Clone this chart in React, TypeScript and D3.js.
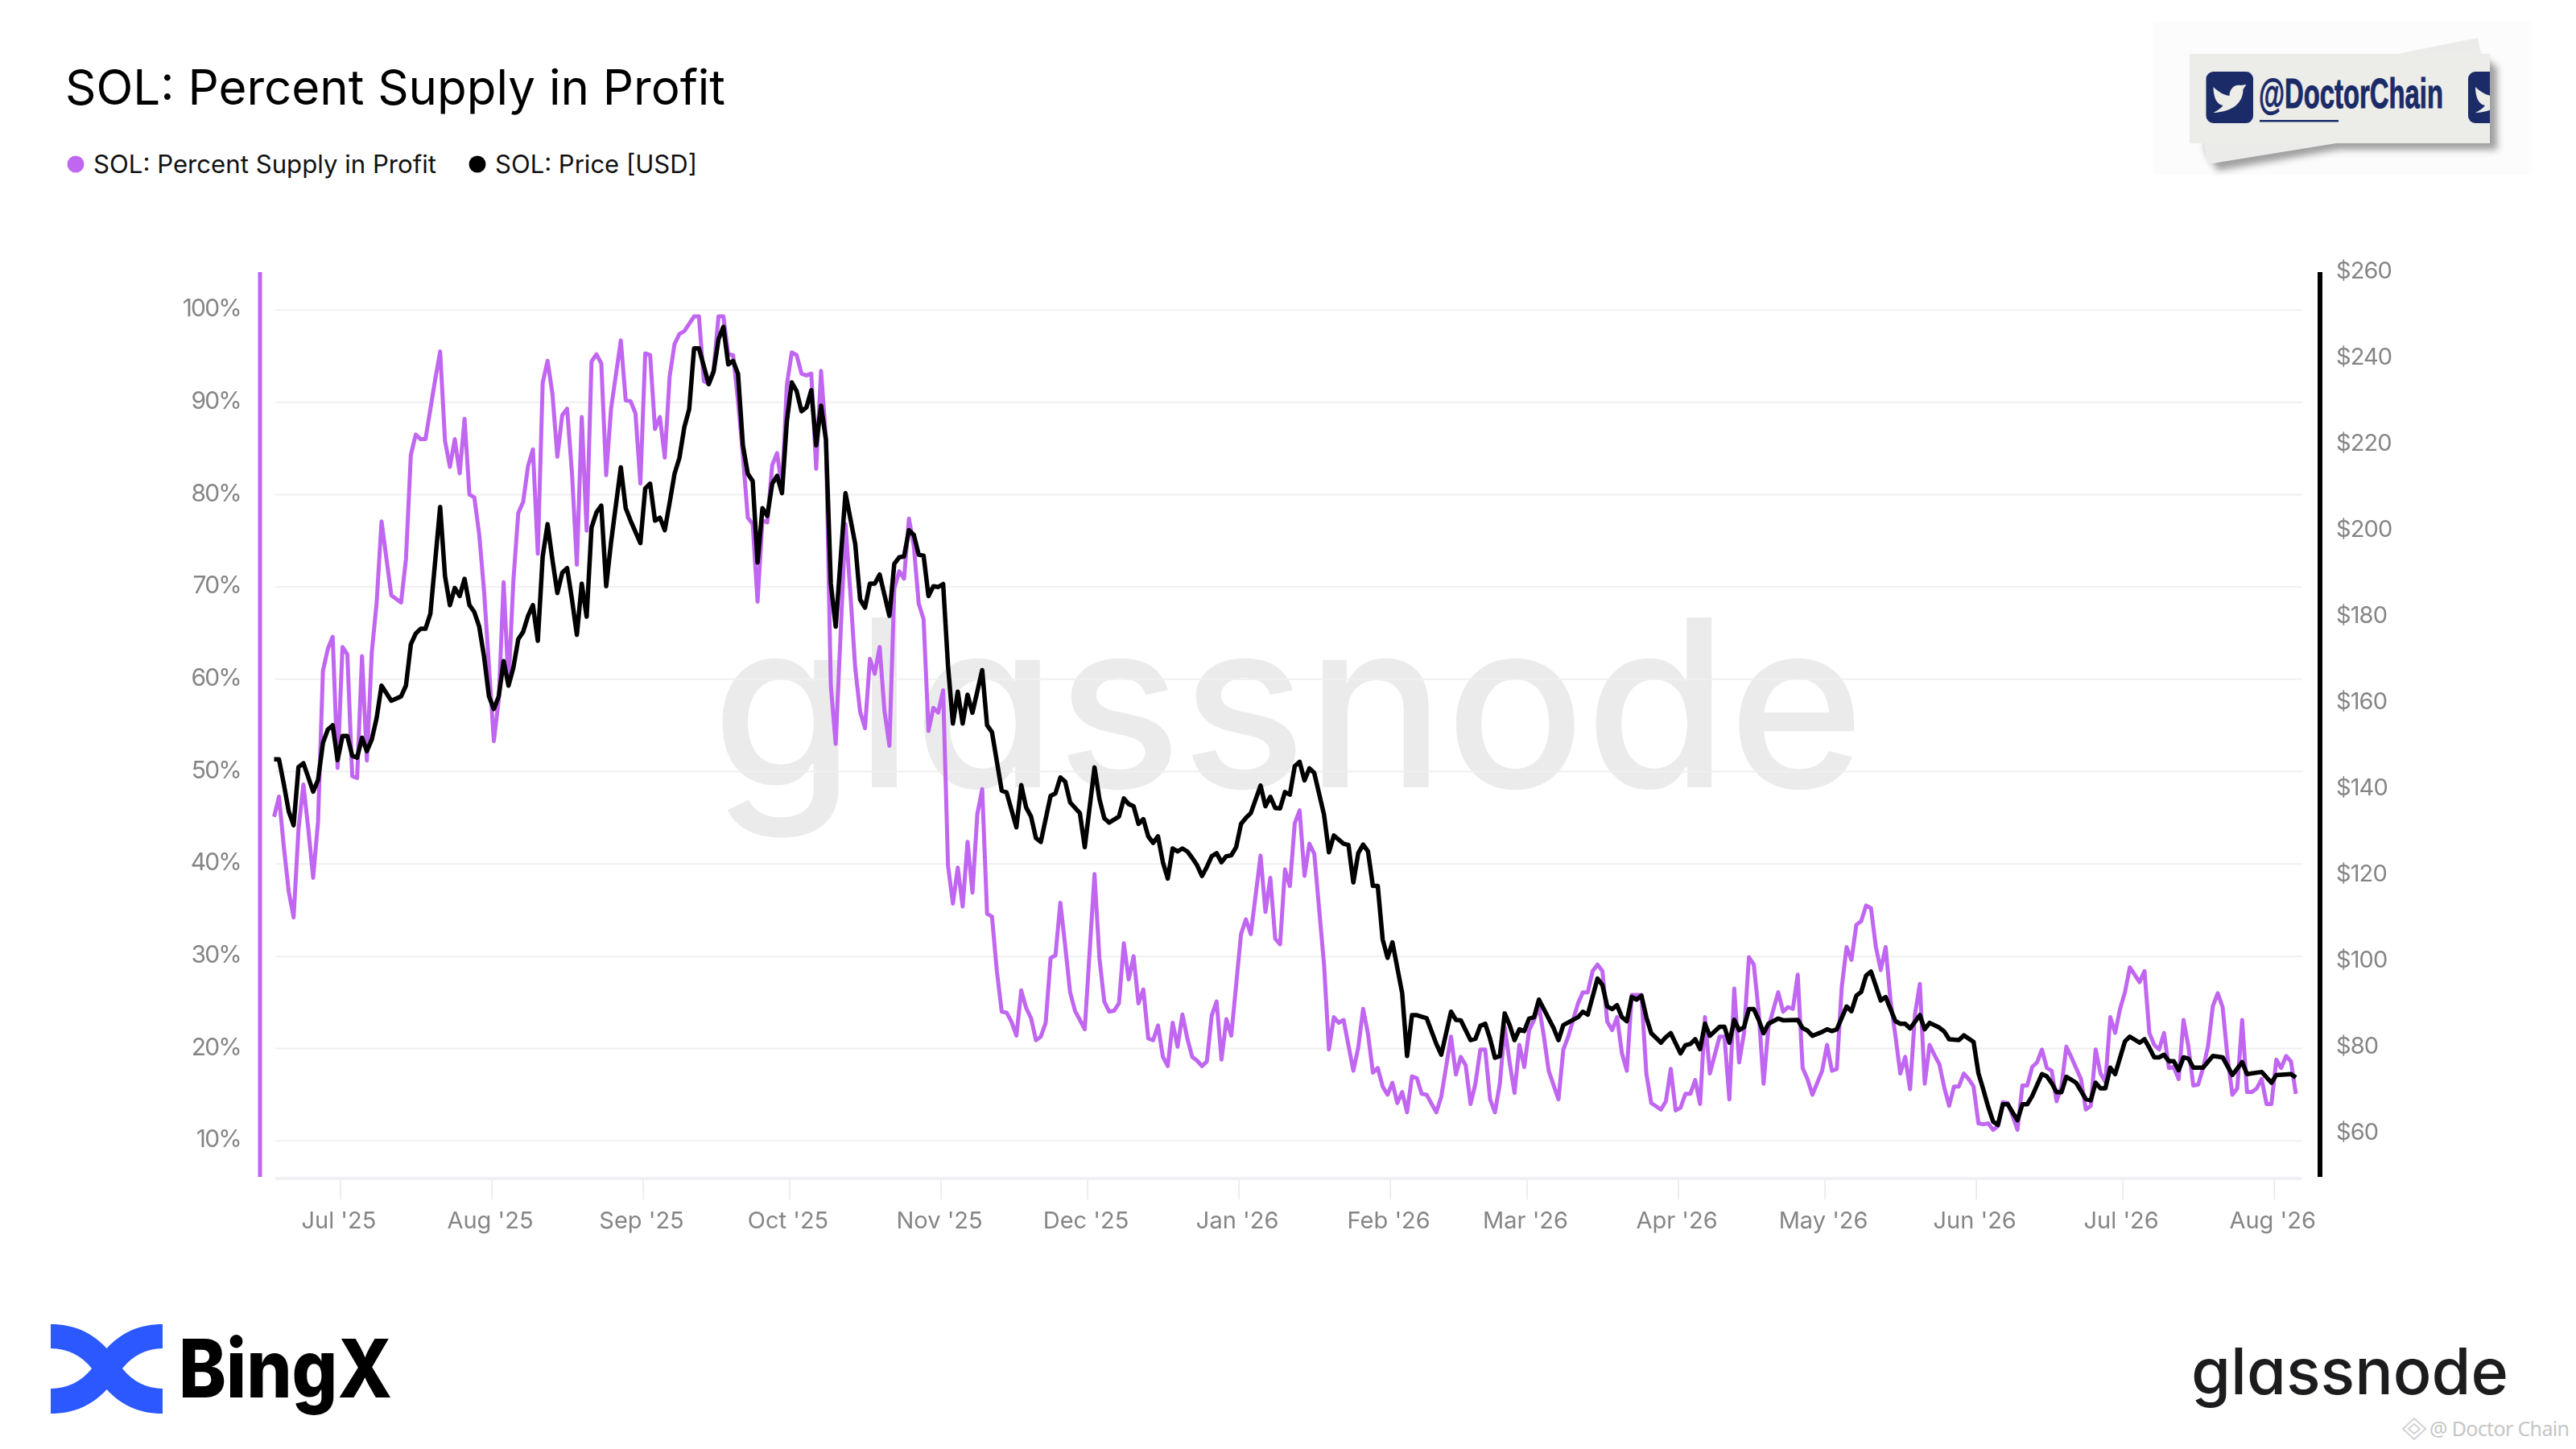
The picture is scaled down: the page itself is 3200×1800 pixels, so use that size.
import React, { useRef, useEffect } from "react";
import * as d3 from "d3";

// days counted from the first sample (17 Jun 2025, midday)
const startDate = Date.UTC(2025, 5, 17, 12);
const DAY = 86400000;

const supplyDays = [
  0,1,2,3,4,5,6,7,8,9,10,11,12,13,14,15,16,17,18,19,20,21,22,24,26,27,28,29,30,31,33,34,35,36,37,38,39,40,41,42,43,45,46,47,48,49,
  50,51,52,53,54,55,56,57,58,59,60,61,62,63,64,65,66,67,68,69,71,72,73,74,75,76,77,78,79,80,81,82,83,84,86,87,88,89,90,91,92,93,94,95,96,97,98,99,
  100,101,102,103,104,105,106,107,108,109,110,111,112,113,114,115,117,118,119,120,121,122,123,124,125,126,127,128,129,130,131,132,133,134,135,136,137,138,139,140,141,142,143,144,145,146,147,148,149,
  150,151,152,153,154,155,156,157,158,159,160,161,162,163,164,165,166,168,169,170,171,172,173,174,175,176,177,178,179,180,181,182,183,184,185,186,187,188,189,190,191,192,193,194,195,196,198,199,
  200,202,203,204,205,206,207,208,209,210,211,212,213,215,216,217,218,219,221,222,223,224,225,226,227,228,229,230,231,232,233,234,235,236,238,239,241,242,243,244,245,246,247,248,249,
  250,251,252,253,254,255,256,257,258,259,260,261,263,264,265,267,268,269,270,271,272,273,274,275,276,277,278,279,280,281,282,284,285,286,287,288,289,290,291,292,293,294,296,297,298,299,
  300,301,302,303,304,305,306,307,308,309,310,311,312,313,314,315,317,318,319,320,321,322,323,324,325,326,327,328,329,330,331,332,333,334,335,336,337,338,339,340,341,342,343,344,345,346,347,348,349,
  350,351,352,353,354,355,356,357,358,359,360,361,362,363,364,365,366,367,368,370,371,372,373,374,375,376,377,378,379,380,382,383,384,385,386,387,388,389,390,391,392,393,394,395,396,397,398,399,
  400,401,402,403,404,405,406,407,408,409,410,411,412,413,414,
];
const supplyValues = [
  45.1,47.3,41.8,37,34.2,43.8,48.6,43.8,38.5,44.6,60.9,63.3,64.6,50.4,63.5,62.7,49.5,49.3,62.5,51.2,62.9,68.3,77.1,69.1,68.3,73,84.3,86.5,86,86,92.5,95.5,85.8,83,86,82.3,88.2,80,79.7,75.7,69.5,53.3,57.8,70.5,59.4,70.7,
  78,79.2,83.1,84.9,73.6,92.1,94.5,90.9,84.1,88.6,89.3,82.3,72.4,88.4,76.1,94.4,95.2,94.2,82.1,89.3,96.7,90.2,90.1,88.8,81.2,95.3,95.1,87.1,88.4,84,92.8,96.3,97.4,97.7,99.3,99.3,92.3,92,93.5,99.3,99.3,95.2,95.1,90.1,84.2,77.5,76.8,68.4,
  77.2,77,83.2,84.5,80.7,91.9,95.4,95.1,93.1,92.9,93.1,82.8,93.4,86.1,59.3,53,76.8,69.4,61.2,56.5,54.7,62.2,60.6,63.5,56.5,52.8,69.8,71.7,70.9,77.4,74.4,68.2,66.5,54.4,56.9,56.4,58.8,39.8,35.7,39.6,35.4,42.4,36.9,45.4,48.1,34.6,34.3,28.4,24,
  23.9,22.9,21.4,26.3,24.4,23.3,20.9,21.3,22.8,29.8,30.1,35.8,31.1,26.1,24.1,23.1,22.1,38.9,29.8,25.1,24,24.1,24.9,31.4,27.5,30,24.9,26.4,21.1,20.9,22.5,19.1,18.1,22.8,20.2,23.7,21.1,19.1,18.7,18.1,18.6,23.6,25.1,18.8,23.2,21.4,32.4,34,
  32.4,40.9,34.8,38.5,31.9,31.3,39.4,37.6,44.4,45.8,38.7,42.2,41.1,29.1,19.9,23.4,22.8,23.1,17.6,20.1,24.3,21.6,17.4,17.9,15.9,15,16.3,14.1,15.3,13.1,17,16.8,15.1,15,13.1,14.8,21.3,17.2,19.1,18.2,14,16.2,19.9,19.9,14.5,
  13.1,16.2,22.3,18.5,15.2,20.4,18,22,23.1,24.6,21.4,17.6,14.5,19.9,21.3,24.9,26.1,26.1,28.4,29.1,28.4,22.9,22,23.4,19.5,17.6,25.8,25.8,25.8,17.3,14.1,13.4,14.3,17.8,13.3,13.6,15.1,15.1,16.6,14,23.4,17.3,21.3,21.3,14.5,26.5,
  18.5,21.7,29.9,29.1,24,16.2,22.3,24.2,26.1,24,24.5,24.3,28,17.9,16.7,15,17.6,20.4,17.6,17.8,26.6,31,29.6,33.4,33.8,35.5,35.2,31,28.5,31,25.2,21.4,17.3,19.1,15.6,23.7,27,16.2,20.4,19.3,18.3,15.8,13.8,15.9,15.9,17.3,16.7,15.9,11.9,
  11.8,11.9,11.2,11.6,14.2,14.1,12.7,11.2,16,16,18,18.5,19.9,17.9,17.6,14.3,15.9,20.2,19.1,16.7,13.4,13.8,19.9,17.3,16.4,23.4,21.7,24.3,26.1,28.8,27.2,28.4,21.7,20.4,19.9,21.7,17.9,18,16.7,23.1,20.2,16,16.1,17.9,20.2,24.6,26,24.5,
  19.1,15,15.7,23.1,15.3,15.3,15.7,16.7,14,14,18.8,17.9,19.2,18.6,15.1,
];

const priceDays = [
  0,1,2,3,4,5,6,7,8,9,10,11,12,13,14,15,16,17,18,19,20,21,22,24,26,27,28,29,30,31,32,34,35,36,37,38,39,40,41,42,43,44,45,46,47,48,49,
  50,51,52,53,54,55,56,57,58,59,60,61,62,63,64,65,66,67,68,69,71,72,73,75,76,77,78,79,80,81,82,83,84,85,86,87,89,90,91,92,93,94,95,96,97,98,99,
  100,101,102,103,104,105,106,107,108,109,110,111,112,113,114,115,117,119,120,121,122,123,124,126,127,128,129,130,131,132,133,134,135,136,137,138,139,140,141,142,143,145,146,147,149,
  150,152,153,154,155,156,157,159,160,161,162,163,165,166,168,169,170,171,173,174,175,176,177,178,179,180,181,182,183,184,185,186,187,188,189,190,191,192,193,194,195,196,197,198,199,
  200,202,203,204,205,206,207,208,209,210,211,212,213,215,216,217,219,220,221,222,223,224,225,226,227,228,229,231,232,233,234,236,238,239,240,241,242,243,245,246,247,248,249,
  250,251,252,253,254,255,256,257,258,259,260,262,263,264,266,267,268,269,271,272,273,274,275,276,277,278,279,280,281,282,284,285,286,288,289,290,291,292,293,294,296,297,298,299,
  300,301,302,303,304,305,306,308,309,312,313,314,315,317,318,319,320,322,323,324,325,326,327,329,330,332,333,334,335,337,338,339,341,342,343,345,346,348,349,
  350,351,352,353,354,355,356,357,358,359,360,362,363,364,365,366,367,369,371,372,373,374,375,376,377,379,380,382,383,384,385,386,387,388,389,390,391,392,393,395,397,399,
  401,403,404,407,409,410,413,414,
];
const priceValues = [
  146.5,146.5,140.7,134.4,131.2,144.7,145.6,142.3,139,141.7,150.3,153.4,154.4,146.3,151.9,151.9,147.3,146.9,151.5,148.4,151.1,156.1,163.6,160.1,161.1,163.6,173.2,175.7,176.8,176.8,180.3,205.1,189,182.3,186.3,184.4,188.4,182.3,180.7,177.3,170.3,161.1,158.2,161.1,169.3,163.6,167.8,
  174.4,176.1,179.8,182.3,174,193.6,201.1,192.8,185.1,189.8,190.9,183.6,175.4,187.3,179.6,200.3,203.8,205.4,186.7,196.9,214.3,204.8,201.9,196.7,209.4,210.5,201.9,202.6,199.7,206.1,212.8,216.5,223.6,227.8,241.9,241.9,233.6,236.5,244,246.9,238.2,239,236,219.4,212.8,211.1,192.2,
  204.8,203,210.5,212.3,208.3,225,234,232,227.3,228.2,232.2,219.4,228.6,220.7,187.3,177.3,208.3,196.5,183.6,181.7,187.3,187.3,189.4,179.8,191.9,193.4,193.6,199.7,198.6,194,193.8,184.4,186.7,186.5,187.2,168.2,154.8,162.2,154.8,161.5,157.3,167.2,154.4,152.8,139.2,
  138.8,130.7,140.5,135.3,133.2,128.2,127.3,138,138.6,142.3,141.3,136.5,134,126.1,144.6,137.3,132.8,131.8,133.2,137.4,136.1,135.6,131.5,132.6,128.6,127.1,128.6,122.6,118.8,125.8,125.1,125.8,125.1,123.6,121.9,119.4,121.5,124,124.7,122.6,124,124.2,126.1,131.5,132.9,
  134,140.4,135.6,137.8,135.2,135.1,138.9,138.3,144.9,145.9,141.6,144.4,143.3,133.6,124.9,128.8,126.9,126.6,117.9,124.7,126.7,125.1,117.1,117.1,104.7,100.4,104,92.2,77.6,87.1,87.1,86.4,80.4,77.9,82.9,87.9,86,85.9,81.3,81.6,84.6,85.1,81.6,
  77.2,77.6,87.5,84.8,81.3,83.8,83.4,86.3,86.6,90.7,88.5,84.1,81.3,84.8,86,86.6,87.9,87.2,95.6,94.1,89.1,88.5,89.4,86.6,85.7,91.3,90.7,91.6,86.6,82.9,80.7,82,82.9,78.2,80.1,80.4,81.5,79.2,85.1,82.3,84.4,84.4,80.7,86,
  83.6,84.3,88.5,88.5,86,82.9,85.1,86.3,85.9,86,84.1,83.5,82.3,83.2,83.8,83.4,83.8,89.1,88,91.6,92.5,96.3,97.2,90.5,91.3,85.7,85.1,85.1,84,87.1,83.8,85.3,84.2,83.3,81.5,81.3,82.4,80.9,73.6,
  69.8,65.8,62.4,61.6,66.4,66.4,64.5,62.7,66.4,66.4,68.3,73.4,72.9,71.3,69.2,69.2,72.8,71.4,67.6,67.3,71.4,70.1,70.1,74.9,73.4,81,82.1,80.7,81.5,79.5,77.3,77.3,77.9,76.4,76.4,74.3,77.3,77,74.9,74.9,77.6,77.3,
  73.2,76.2,73.4,73.9,71.4,73.2,73.4,72.6,
];

const pctTicks = [10, 20, 30, 40, 50, 60, 70, 80, 90, 100];
const usdTicks = [60, 80, 100, 120, 140, 160, 180, 200, 220, 240, 260];

const title = "SOL: Percent Supply in Profit";
const legendNames = ["SOL: Percent Supply in Profit", "SOL: Price [USD]"];

const PURPLE = "#c066f0";
const FONT = "Inter, sans-serif";
const LOGO_FEATURES = "'cv11' 1"; // single storey a, as in the glassnode wordmark

const App = () => {
  const canvas = useRef<SVGSVGElement>(null);

  useEffect(() => {
    const svg = d3.select(canvas.current);
    svg.selectAll("*").remove();

    const defs = svg.append("defs");
    defs.append("filter").attr("id", "soft").append("feGaussianBlur").attr("stdDeviation", 4);
    // the reference is a slightly soft screenshot
    defs.append("filter").attr("id", "haze")
      .attr("x", "-5%").attr("y", "-5%").attr("width", "110%").attr("height", "110%")
      .append("feGaussianBlur").attr("stdDeviation", 0.7);
    defs.append("clipPath").attr("id", "paperClip").append("rect")
      .attr("x", 2720).attr("y", 67).attr("width", 373).attr("height", 111);

    const xScale = d3.scaleUtc()
      .domain([new Date(startDate), new Date(startDate + 414 * DAY)])
      .range([340.5, 2852]);
    const yPct = d3.scaleLinear().domain([10, 100]).range([1417.3, 385]);
    const yUsd = d3.scaleLinear().domain([60, 260]).range([1406, 336]);

    // watermark sits under everything else
    svg.append("text")
      .attr("x", 884).attr("y", 978)
      .attr("font-family", FONT).attr("font-size", 290).attr("font-weight", 500)
      .style("font-feature-settings", LOGO_FEATURES)
      .attr("textLength", 1432).attr("lengthAdjust", "spacingAndGlyphs")
      .attr("fill", "#ebebeb")
      .text("glassnode");

    // gridlines
    svg.append("g").selectAll("line").data(pctTicks).enter().append("line")
      .attr("x1", 342).attr("x2", 2860)
      .attr("y1", (d: number) => yPct(d)).attr("y2", (d: number) => yPct(d))
      .attr("stroke", "#f0f0f3").attr("stroke-width", 2);

    // bottom axis
    const xAxis = d3.axisBottom(xScale)
      .ticks(d3.utcMonth.every(1) as any)
      .tickFormat(d3.utcFormat("%b '%y") as any)
      .tickSizeOuter(0).tickSize(24).tickPadding(15);
    const gx = svg.append("g").attr("transform", "translate(0,1466)").call(xAxis as any);
    gx.select(".domain").remove();
    gx.selectAll("line").attr("stroke", "#e8e8ec").attr("stroke-width", 1.5);
    gx.selectAll("text").attr("font-family", FONT).attr("font-size", 29).attr("dx", -2)
      .attr("fill", "#858585").attr("filter", "url(#haze)");
    svg.append("rect").attr("x", 342).attr("y", 1462).attr("width", 2517).attr("height", 4).attr("fill", "#f0f0f4");

    // left axis
    const pctAxis = d3.axisLeft(yPct).tickValues(pctTicks)
      .tickFormat((d: any) => d + "%").tickSize(0).tickPadding(24);
    const gl = svg.append("g").attr("transform", "translate(323,-2)").call(pctAxis as any);
    gl.select(".domain").remove();
    gl.selectAll("text").attr("font-family", FONT).attr("font-size", 30).attr("letter-spacing", -1.8)
      .attr("fill", "#858585").attr("filter", "url(#haze)");
    svg.append("rect").attr("x", 320.5).attr("y", 338).attr("width", 5).attr("height", 1124).attr("fill", PURPLE);

    // right axis
    const usdAxis = d3.axisRight(yUsd).tickValues(usdTicks)
      .tickFormat((d: any) => "$" + d).tickSize(0).tickPadding(20);
    const gr = svg.append("g").attr("transform", "translate(2882,0)").call(usdAxis as any);
    gr.select(".domain").remove();
    gr.selectAll("text").attr("font-family", FONT).attr("font-size", 29).attr("letter-spacing", -0.9)
      .attr("fill", "#858585").attr("filter", "url(#haze)");
    svg.append("rect").attr("x", 2879).attr("y", 338).attr("width", 6).attr("height", 1124).attr("fill", "#000");

    // series
    const supplyLine = d3.line<number>()
      .x((d: number) => xScale(new Date(startDate + d * DAY)))
      .y((_d: number, i: number) => yPct(supplyValues[i]));
    const priceLine = d3.line<number>()
      .x((d: number) => xScale(new Date(startDate + d * DAY)))
      .y((_d: number, i: number) => yUsd(priceValues[i]));

    svg.append("path").attr("d", supplyLine(supplyDays)).attr("fill", "none")
      .attr("stroke", PURPLE).attr("stroke-width", 5).attr("stroke-linejoin", "round").attr("filter", "url(#haze)");
    svg.append("path").attr("d", priceLine(priceDays)).attr("fill", "none")
      .attr("stroke", "#000").attr("stroke-width", 5.5).attr("stroke-linejoin", "round").attr("filter", "url(#haze)");

    // title and legend
    svg.append("text").attr("x", 81).attr("y", 130)
      .attr("font-family", FONT).attr("font-size", 60).attr("fill", "#000")
      .attr("textLength", 820).attr("lengthAdjust", "spacingAndGlyphs").text(title);

    const legendX = [94, 593];
    const legendLen = [426, 251];
    legendNames.forEach((name: string, i: number) => {
      svg.append("circle").attr("cx", legendX[i]).attr("cy", 204).attr("r", 10.5).attr("fill", i === 0 ? PURPLE : "#000");
      svg.append("text").attr("x", legendX[i] + 22).attr("y", 214.5)
        .attr("font-family", FONT).attr("font-size", 31).attr("fill", "#111")
        .attr("textLength", legendLen[i]).attr("lengthAdjust", "spacingAndGlyphs").text(name);
    });

    // BingX logo
    svg.append("path")
      .attr("d", "M63 1645 C92 1645 114 1655 132.6 1675 C151 1655 173 1645 202 1645 L202 1675 C182 1675 165 1684 152 1700 C165 1716 182 1725 202 1725 L202 1756 C173 1756 151 1746 132.6 1726 C114 1746 92 1756 63 1756 L63 1725 C84 1725 101 1716 114 1700 C101 1684 84 1675 63 1675 Z")
      .attr("fill", "#2b59ff");
    svg.append("text").attr("x", 222).attr("y", 1736)
      .attr("font-family", FONT).attr("font-size", 100).attr("font-weight", 800).attr("fill", "#000")
      .attr("textLength", 265).attr("lengthAdjust", "spacingAndGlyphs").text("BingX");

    // glassnode logo
    svg.append("text").attr("x", 2722).attr("y", 1732)
      .attr("font-family", FONT).attr("font-size", 80).attr("font-weight", 500).attr("fill", "#1c1c1f")
      .style("font-feature-settings", LOGO_FEATURES)
      .attr("textLength", 394).attr("lengthAdjust", "spacingAndGlyphs").text("glassnode");

    // @ Doctor Chain stamp, bottom right
    svg.append("path")
      .attr("d", "M2999 1762 L3013 1775 L2999 1788 L2985 1775 Z M2999 1769 L3006 1775 L2999 1781 L2992 1775 Z")
      .attr("fill", "none").attr("stroke", "#d2d2d2").attr("stroke-width", 2);
    svg.append("text").attr("x", 3018).attr("y", 1784)
      .attr("font-family", "'Noto Sans', sans-serif").attr("font-size", 25).attr("fill", "#c6c6c6")
      .attr("textLength", 174).text("@ Doctor Chain");

    // @DoctorChain sticker, top right
    svg.append("rect").attr("x", 2675).attr("y", 27).attr("width", 470).attr("height", 190).attr("fill", "#fcfcfc");
    svg.append("path").attr("d", "M2740 188 L2755 212 L2905 186 L3102 186 L3102 84 L3086 72 L2740 150 Z")
      .attr("fill", "#444").attr("opacity", 0.5).attr("filter", "url(#soft)");
    svg.append("path").attr("d", "M2738 178 L2742 204 L2902 178 Z M2978 67 L3078 47 L3082 67 Z").attr("fill", "#ebebe9");
    svg.append("rect").attr("x", 2720).attr("y", 67).attr("width", 373).attr("height", 111).attr("fill", "#ecece9");
    const navy = "#1b2b68";
    const sticker = svg.append("g").attr("clip-path", "url(#paperClip)");
    [2740.5, 3066].forEach((x: number) => {
      sticker.append("rect").attr("x", x).attr("y", 89).attr("width", 58.5).attr("height", 64).attr("rx", 9).attr("fill", navy);
      sticker.append("path")
        .attr("d", `M${x + 9} 108 C${x + 15} 114 ${x + 22} 118 ${x + 29} 119 C${x + 29} 111 ${x + 35} 104 ${x + 43} 106 L${x + 50} 105 L${x + 46} 111 C${x + 46} 127 ${x + 34} 139 ${x + 9} 140 C${x + 15} 137 ${x + 19} 134 ${x + 21} 131 C${x + 14} 130 ${x + 9} 122 ${x + 9} 108 Z`)
        .attr("fill", "#ecece9");
    });
    svg.append("text").attr("x", 2806).attr("y", 134)
      .attr("font-family", "'Liberation Sans Narrow', 'Liberation Sans', sans-serif").attr("font-size", 52).attr("font-weight", 700)
      .attr("fill", navy).attr("stroke", navy).attr("stroke-width", 1)
      .attr("textLength", 229).attr("lengthAdjust", "spacingAndGlyphs").text("@DoctorChain");
    svg.append("rect").attr("x", 2807).attr("y", 149).attr("width", 98).attr("height", 2.5).attr("fill", navy);
  }, []);

  return (
    <svg ref={canvas} width={3200} height={1800} viewBox="0 0 3200 1800"
      style={{ position: "absolute", left: 0, top: 0, background: "#fff", display: "block" }} />
  );
};

export default App;
